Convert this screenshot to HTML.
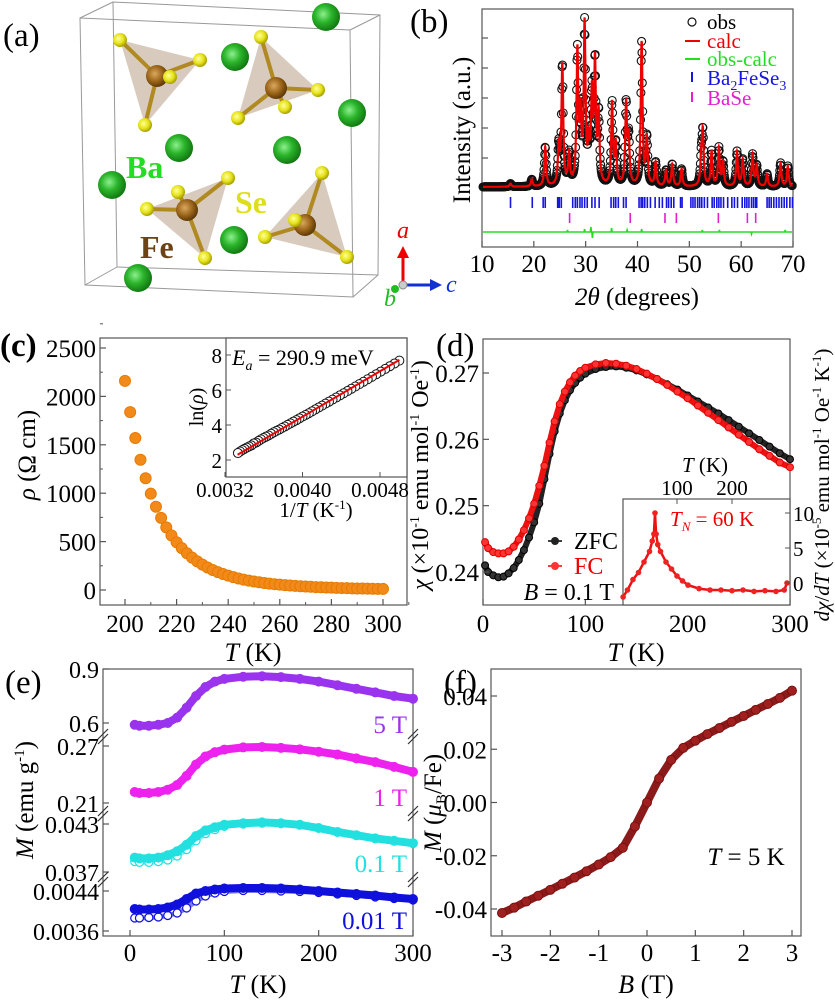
<!DOCTYPE html>
<html><head><meta charset="utf-8"><style>
html,body{margin:0;padding:0;background:#fff}
svg, svg text{font-family:"Liberation Serif","DejaVu Serif","Times New Roman",serif}
</style></head><body>
<svg id="fig" width="835" height="1000" viewBox="0 0 835 1000" xmlns="http://www.w3.org/2000/svg" font-family="Liberation Serif, DejaVu Serif, serif">
<rect x="0" y="0" width="835" height="1000" fill="#fff"/>
<g id="panelA">
 <text x="3" y="46" font-size="33">(a)</text>
 <g stroke="#999" stroke-width="1" fill="none">
  <polygon points="80,18 350,30 353,297 85,285"/>
  <polygon points="113,2 380,15 378,275 117,267"/>
  <line x1="80" y1="18" x2="113" y2="2"/><line x1="350" y1="30" x2="380" y2="15"/>
  <line x1="353" y1="297" x2="378" y2="275"/><line x1="85" y1="285" x2="117" y2="267"/>
 </g>
 <defs>
  <radialGradient id="gBa" cx="0.4" cy="0.4" r="0.6"><stop offset="0" stop-color="#8ef08e"/><stop offset="0.5" stop-color="#2bb52b"/><stop offset="1" stop-color="#137a13"/></radialGradient>
  <radialGradient id="gSe" cx="0.4" cy="0.4" r="0.6"><stop offset="0" stop-color="#ffff9a"/><stop offset="0.6" stop-color="#e6e21a"/><stop offset="1" stop-color="#a8a200"/></radialGradient>
  <radialGradient id="gFe" cx="0.4" cy="0.4" r="0.6"><stop offset="0" stop-color="#d9a860"/><stop offset="0.6" stop-color="#9a6418"/><stop offset="1" stop-color="#5e3a08"/></radialGradient>
 </defs>
 <g fill="#b8a088" fill-opacity="0.55">
  <polygon points="120,40 200,60 145,125"/>
  <polygon points="261,37 318,90 238,118"/>
  <polygon points="228,178 147,209 205,258"/>
  <polygon points="322,173 265,237 347,257"/>
 </g>
 <g stroke="#b08a20" stroke-width="4">
  <line x1="157" y1="76" x2="120" y2="40"/><line x1="157" y1="76" x2="200" y2="60"/><line x1="157" y1="76" x2="170" y2="77"/><line x1="157" y1="76" x2="145" y2="125"/>
  <line x1="276" y1="88" x2="261" y2="37"/><line x1="276" y1="88" x2="318" y2="90"/><line x1="276" y1="88" x2="238" y2="118"/><line x1="276" y1="88" x2="285" y2="107"/>
  <line x1="187" y1="210" x2="228" y2="178"/><line x1="187" y1="210" x2="147" y2="209"/><line x1="187" y1="210" x2="178" y2="192"/><line x1="187" y1="210" x2="205" y2="258"/>
  <line x1="305" y1="225" x2="322" y2="173"/><line x1="305" y1="225" x2="265" y2="237"/><line x1="305" y1="225" x2="295" y2="220"/><line x1="305" y1="225" x2="347" y2="257"/>
 </g>
 <g fill="url(#gBa)">
  <circle cx="326" cy="17" r="14"/><circle cx="235" cy="57" r="14"/><circle cx="352" cy="113" r="14"/><circle cx="179" cy="148" r="14"/><circle cx="287" cy="150" r="14"/><circle cx="112" cy="185" r="14"/><circle cx="234" cy="240" r="14"/><circle cx="138" cy="278" r="14"/>
 </g>
 <g fill="url(#gFe)">
  <circle cx="157" cy="76" r="11"/><circle cx="276" cy="88" r="11"/><circle cx="187" cy="210" r="11"/><circle cx="305" cy="225" r="11"/>
 </g>
 <g fill="url(#gSe)">
  <circle cx="120" cy="40" r="7"/><circle cx="200" cy="60" r="7"/><circle cx="170" cy="77" r="7"/><circle cx="145" cy="125" r="7"/>
  <circle cx="261" cy="37" r="7"/><circle cx="318" cy="90" r="7"/><circle cx="238" cy="118" r="7"/><circle cx="285" cy="107" r="7"/>
  <circle cx="228" cy="178" r="7"/><circle cx="147" cy="209" r="7"/><circle cx="178" cy="192" r="7"/><circle cx="205" cy="258" r="7"/>
  <circle cx="322" cy="173" r="7"/><circle cx="265" cy="237" r="7"/><circle cx="295" cy="220" r="7"/><circle cx="347" cy="257" r="7"/>
 </g>
 <text x="126" y="178" font-size="32" font-weight="bold" fill="#22dd22">Ba</text>
 <text x="235" y="213" font-size="32" font-weight="bold" fill="#dede20">Se</text>
 <text x="140" y="258" font-size="32" font-weight="bold" fill="#6b4316">Fe</text>
 <g>
  <line x1="403" y1="285" x2="403" y2="256" stroke="#e00" stroke-width="3"/><polygon points="397,258 409,258 403,246" fill="#e00"/>
  <line x1="403" y1="285" x2="432" y2="285" stroke="#1030d0" stroke-width="3"/><polygon points="430,279 430,291 442,285" fill="#1030d0"/>
  <circle cx="395" cy="289" r="4" fill="#22bb22"/><circle cx="403" cy="285" r="4" fill="#ccc" stroke="#888"/>
  <text x="397" y="238" font-size="24" font-style="italic" fill="#e00">a</text>
  <text x="446" y="292" font-size="24" font-style="italic" fill="#1030d0">c</text>
  <text x="384" y="306" font-size="24" font-style="italic" fill="#22bb22">b</text>
 </g>
</g>
<g id="panelB"></g>
<g id="panelC"></g>
<g id="panelD"></g>
<g id="panelE"></g>
<g id="panelF"></g>
</svg>
<script>
// ===== Panel (b) data =====
const xrdPeakPos = [15.5,19.6,22.2,24.8,25.5,26.8,28.4,29.0,29.8,30.6,31.2,31.8,32.5,35.1,35.8,37.8,38.3,40.8,41.8,43.5,45.5,46.7,48.5,52.3,52.6,54.3,55.7,56.5,59.2,60.3,62.2,63.0,65.0,67.6,69.0];
const xrdPeakHeight = [2,4.5,25,24,76,19,83,41,100,22,54,75,43,52,25,51,29,91,30,15,10,14,11,16,33,22,24,15,22,17,20,13,8,15,13];
const ba2fese3Ticks = [15.5,19.7,21.8,22.2,24.6,24.9,25.3,27.5,28,28.4,28.9,29.3,29.8,30.3,31.2,31.8,32.6,34.9,35.4,35.8,36.3,37.3,37.8,40.3,40.7,41,41.4,41.9,42.5,43.4,44.2,44.8,45.6,46,46.5,47,48.3,48.6,50.3,50.7,51.1,51.6,52,52.4,52.9,53.5,54.4,54.8,55.3,55.7,56.1,56.6,57.4,58.2,58.7,59.3,60.2,60.7,61.1,61.5,62,62.4,62.8,63,65,65.4,65.8,66.3,66.8,67.3,67.8,68.3,68.8,69.4,69.9];
const baseTicks = [26.9,38.6,45.3,47.5,55.6,61.2,62.8];
const diffSpikePos = [26.5,29.8,31.0,31.3,35.0,38.0,40.8,52.5,55.8,62.0,68.5];
const diffSpikeAmp = [2,3,5,-6,4,2,3,2,2,-2,2];
const xrdTicks = [10,20,30,40,50,60,70];
// ===== Panel (c) data =====
const rhoT = [200,202,204,206,208,210,212,214,216,218,220,222,224,226,228,230,232,234,236,238,240,242,244,246,248,250,252,254,256,258,260,262,264,266,268,270,272,274,276,278,280,282,284,286,288,290,292,294,296,298,300];
const rhoVal = [2160,1838,1570,1345,1155,995,860,745,647,564,493,432,380,335,296,262,233,207,185,165,148,133,119,107,97,88,80,72,66,60,55,50,46,42,39,36,33,30,28,26,24,22,20,19,17,16,15,14,13,12,11];
const rhoXTicks = [200,220,240,260,280,300];
const rhoYTicks = [0,500,1000,1500,2000,2500];
const fitInvT = [0.00333,0.00500];
const fitLnRho = [2.3,7.72];
const insetCXTicks = ["0.0032","0.0040","0.0048"];
const insetCYTicks = [2,4,6,8];
// ===== Panel (d) data =====
const chiT = [2,5,10,15,20,25,30,35,40,45,50,55,60,65,70,75,80,85,90,95,100,110,120,130,140,150,160,170,180,190,200,210,220,230,240,250,260,270,280,290,300];
const chiFC = [0.2445,0.2436,0.2430,0.2428,0.2428,0.2431,0.2438,0.2449,0.2463,0.2481,0.2503,0.2530,0.2560,0.2595,0.2627,0.2653,0.2672,0.2686,0.2696,0.2703,0.2708,0.2713,0.2715,0.2714,0.2711,0.2706,0.2699,0.2691,0.2682,0.2672,0.2662,0.2651,0.2640,0.2629,0.2618,0.2607,0.2596,0.2585,0.2575,0.2565,0.2558];
const chiZFC = [0.2410,0.2400,0.2395,0.2392,0.2393,0.2398,0.2406,0.2418,0.2433,0.2452,0.2475,0.2503,0.2540,0.2578,0.2612,0.2639,0.2659,0.2674,0.2685,0.2693,0.2699,0.2706,0.2709,0.2710,0.2708,0.2704,0.2698,0.2691,0.2683,0.2675,0.2666,0.2657,0.2648,0.2639,0.2629,0.2619,0.2609,0.2599,0.2589,0.2579,0.2570];
const chiYTicks = [0.24,0.25,0.26,0.27];
const chiXTicks = [0,100,200,300];
const dchiT = [2,10,20,30,40,50,55,58,60,62,65,70,80,90,100,110,120,140,160,180,200,220,240,260,280,295,300];
const dchiVal = [-2,-1,0.5,1.5,3,4.5,6,7,10,7,5.5,4.5,3,2,1,0.3,-0.3,-0.8,-1,-1,-1.1,-1,-1.2,-1.1,-1.2,-1.0,0];
// ===== Panel (e) data =====
const mT = [5,10,20,30,40,50,60,70,80,90,100,120,140,160,180,200,220,240,260,280,300];
const m5T = [0.59,0.585,0.585,0.59,0.60,0.63,0.685,0.75,0.80,0.83,0.845,0.857,0.86,0.855,0.845,0.83,0.81,0.79,0.77,0.75,0.735];
const m1T = [0.2216,0.2205,0.2205,0.2216,0.2240,0.2290,0.2385,0.2505,0.2590,0.2635,0.2662,0.2685,0.2690,0.2680,0.2665,0.2640,0.2610,0.2570,0.2530,0.2480,0.2427];
const m01T = [0.0388,0.0387,0.0387,0.0388,0.0391,0.0396,0.0404,0.0415,0.0422,0.0426,0.0429,0.0431,0.0432,0.0431,0.0429,0.0425,0.0420,0.0416,0.0412,0.0409,0.0406];
const m01TZFC = [0.0383,0.0382,0.0382,0.0383,0.0385,0.0390,0.0398,0.0409,0.0418,0.0423,0.0427,0.0430,0.0431,0.0431,0.0429,0.0425,0.0420,0.0416,0.0412,0.0409,0.0406];
const m001T = [0.00404,0.00403,0.00403,0.00404,0.00407,0.00413,0.00424,0.00435,0.00440,0.00443,0.00445,0.00446,0.00446,0.00445,0.00443,0.00440,0.00437,0.00434,0.00431,0.00427,0.00424];
const m001TZFC = [0.00386,0.00386,0.00387,0.00388,0.00391,0.00396,0.00406,0.00420,0.00430,0.00436,0.00439,0.00441,0.00441,0.00440,0.00439,0.00437,0.00434,0.00431,0.00428,0.00425,0.00422];
const mXTicks = [0,100,200,300];
// ===== Panel (f) data =====
const mhB = [-3,-2.75,-2.5,-2.25,-2,-1.75,-1.5,-1.25,-1,-0.75,-0.5,-0.25,0,0.25,0.5,0.75,1,1.25,1.5,1.75,2,2.25,2.5,2.75,3];
const mhM = [-0.0415,-0.0395,-0.0372,-0.035,-0.0328,-0.0305,-0.0282,-0.0258,-0.0233,-0.0205,-0.017,-0.009,0,0.009,0.016,0.0205,0.0232,0.0257,0.028,0.0303,0.0325,0.0348,0.037,0.0393,0.042];
const mhXTicks = [-3,-2,-1,0,1,2,3];
const mhYTicks = ["-0.04","-0.02","0.00","0.02","0.04"];

const NS = "http://www.w3.org/2000/svg";
function lin(d0,d1,r0,r1){return v=>r0+(v-d0)*(r1-r0)/(d1-d0);}
function mk(parent,tag,attrs,text){const e=document.createElementNS(NS,tag);for(const k in attrs)e.setAttribute(k,attrs[k]);if(text!==undefined)e.textContent=text;parent.appendChild(e);return e;}
function ptsStr(xs,ys,sx,sy){return xs.map((x,i)=>sx(x).toFixed(1)+","+sy(ys[i]).toFixed(1)).join(" ");}

// ---------- Panel B ----------
(function(){
 const g=document.getElementById('panelB');
 const sx=lin(10,70,482,793), sy=lin(0,100,185,28);
 let el;
 el=mk(g,'text',{x:410,y:32,'font-size':33},'(b)');
 
 
 el=mk(g,'rect',{x:482,y:9,width:311,height:238,fill:'none',stroke:'#555','stroke-width':1.2});
 
 
 function prof(x){let s=0;for(let i=0;i<xrdPeakPos.length;i++){const d=(x-xrdPeakPos[i])/0.2;s+=xrdPeakHeight[i]/(1+d*d);}return s;}
 const obs=mk(g,'g',{fill:'none',stroke:'#111','stroke-width':1.1});
 
 
 for(let x=10.2;x<=69.9;x+=0.07){const v=prof(x);
  const c=mk(obs,'circle',{cx:sx(x).toFixed(1),cy:(sy(v)+2).toFixed(1),r:4});
  
  }
 const cp=[];for(let x=10.2;x<=69.9;x+=0.02){cp.push(sx(x).toFixed(1)+','+(sy(prof(x))+2).toFixed(1));}
 el=mk(g,'polyline',{points:cp.join(' '),fill:'none',stroke:'#e00','stroke-width':2.2});
 
 
 const tb=mk(g,'g',{stroke:'#1515e0','stroke-width':1.6});
 
 
 ba2fese3Ticks.forEach(p=>{const l=mk(tb,'line',{x1:sx(p),x2:sx(p),y1:197,y2:208});
  
  });
 const tm=mk(g,'g',{stroke:'#e020d0','stroke-width':1.6});
 
 
 baseTicks.forEach(p=>{const l=mk(tm,'line',{x1:sx(p),x2:sx(p),y1:213,y2:223});
  
  });
 const dp=[];for(let x=10.2;x<=69.9;x+=0.1){let d=0;diffSpikePos.forEach((p,i)=>{if(Math.abs(x-p)<0.06)d=diffSpikeAmp[i];});dp.push(sx(x).toFixed(1)+','+(232-d).toFixed(1));}
 el=mk(g,'polyline',{points:dp.join(' '),fill:'none',stroke:'#22dd22','stroke-width':1.6});
 
 
 xrdTicks.forEach(t=>{
  const l=mk(g,'line',{x1:sx(t),x2:sx(t),y1:247,y2:241,stroke:'#555','stroke-width':1.2});
  
  
  const tx=mk(g,'text',{x:sx(t),y:272,'font-size':25,'text-anchor':'middle'},String(t));
  
  });
 [38,68,98,128,158].forEach(y=>{const l=mk(g,'line',{x1:482,x2:488,y1:y,y2:y,stroke:'#555','stroke-width':1.2});
  
  });
 el=mk(g,'text',{x:0,y:0,'font-size':25,'text-anchor':'middle',transform:'translate(470,130) rotate(-90)'},'Intensity (a.u.)');
 
 
 el=mk(g,'text',{x:637,y:305,'font-size':25,'text-anchor':'middle'});
 el.innerHTML='<tspan font-style="italic">2θ</tspan> (degrees)';
 
 
 const lg=mk(g,'g',{'font-size':21});
 
 
 el=mk(lg,'circle',{cx:692,cy:22,r:4,fill:'none',stroke:'#111','stroke-width':1.2});
 el=mk(lg,'text',{x:707,y:29},'obs');
 el=mk(lg,'line',{x1:685,x2:700,y1:41,y2:41,stroke:'#e00','stroke-width':2});
 el=mk(lg,'text',{x:707,y:48,fill:'#e00'},'calc');
 el=mk(lg,'line',{x1:685,x2:700,y1:59,y2:59,stroke:'#22dd22','stroke-width':2});
 el=mk(lg,'text',{x:707,y:66,fill:'#22dd22'},'obs-calc');
 el=mk(lg,'line',{x1:692,x2:692,y1:72,y2:82,stroke:'#1515e0','stroke-width':2});
 el=mk(lg,'text',{x:707,y:85,fill:'#1515e0'});el.innerHTML='Ba<tspan font-size="14" dy="5">2</tspan><tspan dy="-5">FeSe</tspan><tspan font-size="14" dy="5">3</tspan>';
 el=mk(lg,'line',{x1:692,x2:692,y1:92,y2:102,stroke:'#e020d0','stroke-width':2});
 el=mk(lg,'text',{x:707,y:105,fill:'#e020d0'},'BaSe');
})();

// ---------- Panel C ----------
(function(){
 const g=document.getElementById('panelC');
 const sx=lin(200,300,125,383), sy=lin(0,2500,590,348);
 let el;
 el=mk(g,'text',{x:0,y:356,'font-size':33,'font-weight':'bold'},'(c)');
 el=mk(g,'rect',{x:100,y:338,width:307,height:267,fill:'none',stroke:'#555','stroke-width':1.2});
 const pts=mk(g,'g',{fill:'#f28a1a',stroke:'#e87a00','stroke-width':1});
 
 
 rhoT.forEach((t,i)=>{const c=mk(pts,'circle',{cx:sx(t),cy:sy(rhoVal[i]),r:5.5});
  
  });
 rhoXTicks.forEach(t=>{
  el=mk(g,'line',{x1:sx(t),x2:sx(t),y1:605,y2:599,stroke:'#555','stroke-width':1.2});
  el=mk(g,'text',{x:sx(t),y:632,'font-size':25,'text-anchor':'middle'},String(t));
  el=mk(g,'line',{x1:sx(t+10),x2:sx(t+10),y1:605,y2:602,stroke:'#555'});});
 rhoYTicks.forEach(t=>{
  el=mk(g,'line',{x1:100,x2:106,y1:sy(t),y2:sy(t),stroke:'#555','stroke-width':1.2});
  el=mk(g,'text',{x:96,y:sy(t)+9,'font-size':25,'text-anchor':'end'},String(t));
  el=mk(g,'line',{x1:100,x2:103,y1:sy(t+250),y2:sy(t+250),stroke:'#555'});});
 el=mk(g,'text',{x:0,y:0,'font-size':25,'text-anchor':'middle',transform:'translate(35,455) rotate(-90)'});el.innerHTML='<tspan font-style="italic">ρ</tspan> (Ω cm)';
 el=mk(g,'text',{x:253,y:661,'font-size':26,'text-anchor':'middle'});el.innerHTML='<tspan font-style="italic">T</tspan> (K)';
 const ix=lin(0.0032,0.0048,225,380), iy=lin(2,8,460,355);
 el=mk(g,'rect',{x:226,y:338,width:181,height:139,fill:'#fff',stroke:'#555','stroke-width':1.2});
 const ip=mk(g,'g',{fill:'#fff',stroke:'#111','stroke-width':1});
 
 
 rhoT.forEach((t,i)=>{const c=mk(ip,'circle',{cx:ix(1/t),cy:iy(Math.log(rhoVal[i])),r:4.5});
  
  });
 el=mk(g,'line',{x1:ix(fitInvT[0]),y1:iy(fitLnRho[0]),x2:ix(fitInvT[1]),y2:iy(fitLnRho[1]),stroke:'#e00','stroke-width':2});
 insetCXTicks.forEach(t=>{const v=parseFloat(t);
  el=mk(g,'line',{x1:ix(v),x2:ix(v),y1:477,y2:472,stroke:'#555'});
  el=mk(g,'text',{x:ix(v),y:497,'font-size':21,'text-anchor':'middle'},t);});
 insetCYTicks.forEach(t=>{
  el=mk(g,'line',{x1:226,x2:231,y1:iy(t),y2:iy(t),stroke:'#555'});
  el=mk(g,'text',{x:222,y:iy(t)+8,'font-size':21,'text-anchor':'end'},String(t));});
 el=mk(g,'text',{x:0,y:0,'font-size':20,'text-anchor':'middle',transform:'translate(203,407) rotate(-90)'});el.innerHTML='ln(<tspan font-style="italic">ρ</tspan>)';
 el=mk(g,'text',{x:316,y:517,'font-size':21,'text-anchor':'middle'});el.innerHTML='1/<tspan font-style="italic">T</tspan> (K<tspan font-size="13" dy="-8">-1</tspan><tspan dy="8">)</tspan>';
 el=mk(g,'text',{x:232,y:365,'font-size':22});el.innerHTML='<tspan font-style="italic">E</tspan><tspan font-style="italic" font-size="14" dy="5">a</tspan><tspan dy="-5"> = 290.9 meV</tspan>';
})();

// ---------- Panel D ----------
(function(){
 const g=document.getElementById('panelD');
 const sx=lin(0,300,483,790), sy=lin(0.24,0.27,572,373);
 let el;
 el=mk(g,'text',{x:436,y:356,'font-size':33},'(d)');
 el=mk(g,'rect',{x:483,y:339,width:307,height:266,fill:'none',stroke:'#555','stroke-width':1.2});
 el=mk(g,'polyline',{points:ptsStr(chiT,chiZFC,sx,sy),fill:'none',stroke:'#222','stroke-width':6});
 const zg=mk(g,'g',{fill:'#333',stroke:'#000','stroke-width':1});
 chiT.forEach((t,i)=>{const c=mk(zg,'circle',{cx:sx(t),cy:sy(chiZFC[i]),r:3.5});});
 el=mk(g,'polyline',{points:ptsStr(chiT,chiFC,sx,sy),fill:'none',stroke:'#ee1111','stroke-width':6});
 const fg=mk(g,'g',{fill:'#ff3333',stroke:'#dd0000','stroke-width':1});
 chiT.forEach((t,i)=>{const c=mk(fg,'circle',{cx:sx(t),cy:sy(chiFC[i]),r:3.5});});
 chiXTicks.forEach(t=>{
  el=mk(g,'line',{x1:sx(t),x2:sx(t),y1:605,y2:599,stroke:'#555','stroke-width':1.2});
  el=mk(g,'text',{x:sx(t),y:632,'font-size':25,'text-anchor':'middle'},String(t));});
 chiYTicks.forEach(t=>{
  el=mk(g,'line',{x1:483,x2:489,y1:sy(t),y2:sy(t),stroke:'#555','stroke-width':1.2});
  el=mk(g,'text',{x:479,y:sy(t)+9,'font-size':25,'text-anchor':'end'},t.toFixed(2));});
 el=mk(g,'text',{x:0,y:0,'font-size':24,'text-anchor':'middle',transform:'translate(428,475) rotate(-90)'});el.innerHTML='<tspan font-style="italic">χ</tspan> (×10<tspan font-size="14" dy="-9">-1</tspan><tspan dy="9"> emu mol</tspan><tspan font-size="14" dy="-9">-1</tspan><tspan dy="9"> Oe</tspan><tspan font-size="14" dy="-9">-1</tspan><tspan dy="9">)</tspan>';
 el=mk(g,'text',{x:636,y:661,'font-size':26,'text-anchor':'middle'});el.innerHTML='<tspan font-style="italic">T</tspan> (K)';
 el=mk(g,'line',{x1:548,x2:562,y1:541,y2:541,stroke:'#000','stroke-width':1.5});
 el=mk(g,'circle',{cx:555,cy:541,r:4,fill:'#222'});
 el=mk(g,'text',{x:574,y:549,'font-size':24},'ZFC');
 el=mk(g,'line',{x1:548,x2:562,y1:566,y2:566,stroke:'#e00','stroke-width':1.5});
 el=mk(g,'circle',{cx:555,cy:566,r:4,fill:'#f33'});
 el=mk(g,'text',{x:574,y:574,'font-size':24,fill:'#e00'},'FC');
 el=mk(g,'text',{x:614,y:600,'font-size':24,'text-anchor':'end'});el.innerHTML='<tspan font-style="italic">B</tspan> = 0.1 T';
 const ix=lin(100,200,677,732), iy=lin(0,10,583,513);
 el=mk(g,'rect',{x:623,y:499,width:167,height:106,fill:'#fff',stroke:'#555','stroke-width':1.2});
 el=mk(g,'polyline',{points:ptsStr(dchiT,dchiVal,ix,iy),fill:'none',stroke:'#ee1111','stroke-width':2.5});
 const dg=mk(g,'g',{fill:'#ee2222'});
 dchiT.forEach((t,i)=>{const c=mk(dg,'circle',{cx:ix(t),cy:iy(dchiVal[i]),r:2.8});});
 [100,200].forEach(t=>{
  el=mk(g,'line',{x1:ix(t),x2:ix(t),y1:499,y2:504,stroke:'#555'});
  el=mk(g,'text',{x:ix(t),y:495,'font-size':21,'text-anchor':'middle'},String(t));});
 [0,5,10].forEach(t=>{
  el=mk(g,'line',{x1:785,x2:790,y1:iy(t),y2:iy(t),stroke:'#555'});
  el=mk(g,'text',{x:793,y:iy(t)+8,'font-size':21},String(t));});
 el=mk(g,'text',{x:705,y:472,'font-size':21,'text-anchor':'middle'});el.innerHTML='<tspan font-style="italic">T</tspan> (K)';
 el=mk(g,'text',{x:670,y:526,'font-size':21,fill:'#e00'});el.innerHTML='<tspan font-style="italic">T</tspan><tspan font-style="italic" font-size="13" dy="5">N</tspan><tspan dy="-5"> = 60 K</tspan>';
 el=mk(g,'text',{x:0,y:0,'font-size':21,'text-anchor':'middle',transform:'translate(829,485) rotate(-90)'});el.innerHTML='<tspan font-style="italic">dχ</tspan>/<tspan font-style="italic">dT</tspan> (×10<tspan font-size="13" dy="-8">-5</tspan><tspan dy="8"> emu mol</tspan><tspan font-size="13" dy="-8">-1</tspan><tspan dy="8"> Oe</tspan><tspan font-size="13" dy="-8">-1</tspan><tspan dy="8"> K</tspan><tspan font-size="13" dy="-8">-1</tspan><tspan dy="8">)</tspan>';
})();

// ---------- Panel E ----------
(function(){
 const g=document.getElementById('panelE');
 const sx=lin(0,300,130,413);
 let el;
 el=mk(g,'text',{x:5,y:693,'font-size':33},'(e)');
 el=mk(g,'rect',{x:103,y:669,width:310,height:267,fill:'none',stroke:'#555','stroke-width':1.2});
 const segs=[
  {name:'5t',lo:0.6,hi:0.9,ylo:723,yhi:669,data:m5T,zfc:null,col:'#9a33ee',lab:'5 T',ly:733,los:'0.6',his:'0.9'},
  {name:'1t',lo:0.21,hi:0.27,ylo:803,yhi:746,data:m1T,zfc:null,col:'#ee22ee',lab:'1 T',ly:806,los:'0.21',his:'0.27'},
  {name:'0p1t',lo:0.037,hi:0.043,ylo:872,yhi:824,data:m01T,zfc:m01TZFC,col:'#22e0e0',lab:'0.1 T',ly:872,los:'0.037',his:'0.043'},
  {name:'0p01t',lo:0.0036,hi:0.0044,ylo:931,yhi:891,data:m001T,zfc:m001TZFC,col:'#1010dd',lab:'0.01 T',ly:929,los:'0.0036',his:'0.0044'}];
 segs.forEach(s=>{
  const sy=lin(s.lo,s.hi,s.ylo,s.yhi);
  if(s.zfc){
   el=mk(g,'polyline',{points:ptsStr(mT,s.zfc,sx,sy),fill:'none',stroke:s.col,'stroke-width':5,'stroke-opacity':0.55});
   const zg=mk(g,'g',{fill:'#fff',stroke:s.col,'stroke-width':1.2});
   mT.forEach((t,i)=>{const c=mk(zg,'circle',{cx:sx(t),cy:sy(s.zfc[i]),r:4});});
  }
  el=mk(g,'polyline',{points:ptsStr(mT,s.data,sx,sy),fill:'none',stroke:s.col,'stroke-width':8});
  const fg=mk(g,'g',{fill:s.col,stroke:s.col});
  mT.forEach((t,i)=>{const c=mk(fg,'circle',{cx:sx(t),cy:sy(s.data[i]),r:4.5});});
  el=mk(g,'text',{x:407,y:s.ly,'font-size':25,'text-anchor':'end',fill:s.col},s.lab);
  [[s.lo,s.los],[s.hi,s.his]].forEach(p=>{
   el=mk(g,'line',{x1:103,x2:109,y1:sy(p[0]),y2:sy(p[0]),stroke:'#555','stroke-width':1.2});
   el=mk(g,'text',{x:99,y:sy(p[0])+9,'font-size':24,'text-anchor':'end'},p[1]);});
 });
 [735,812,878].forEach(y=>{[103,413].forEach(x=>{
  el=mk(g,'path',{d:`M${x-5},${y+4} L${x+5},${y-6} M${x-5},${y+9} L${x+5},${y-1}`,stroke:'#333','stroke-width':1.2,fill:'none'});});});
 mXTicks.forEach(t=>{
  el=mk(g,'line',{x1:sx(t),x2:sx(t),y1:936,y2:930,stroke:'#555','stroke-width':1.2});
  el=mk(g,'text',{x:sx(t),y:961,'font-size':25,'text-anchor':'middle'},String(t));});
 el=mk(g,'text',{x:0,y:0,'font-size':25,'text-anchor':'middle',transform:'translate(33,800) rotate(-90)'});el.innerHTML='<tspan font-style="italic">M</tspan> (emu g<tspan font-size="15" dy="-9">-1</tspan><tspan dy="9">)</tspan>';
 el=mk(g,'text',{x:258,y:993,'font-size':26,'text-anchor':'middle'});el.innerHTML='<tspan font-style="italic">T</tspan> (K)';
})();

// ---------- Panel F ----------
(function(){
 const g=document.getElementById('panelF');
 const sx=lin(-3,3,502,792), sy=lin(-0.04,0.04,909,696);
 let el;
 el=mk(g,'text',{x:444,y:693,'font-size':33},'(f)');
 el=mk(g,'rect',{x:491,y:669,width:310,height:267,fill:'none',stroke:'#555','stroke-width':1.2});
 el=mk(g,'polyline',{points:ptsStr(mhB,mhM,sx,sy),fill:'none',stroke:'#8b1a1a','stroke-width':8});
 const pg=mk(g,'g',{fill:'#a02020',stroke:'#7a1010'});
 mhB.forEach((b,i)=>{const c=mk(pg,'circle',{cx:sx(b),cy:sy(mhM[i]),r:4.5});});
 mhXTicks.forEach(t=>{
  el=mk(g,'line',{x1:sx(t),x2:sx(t),y1:936,y2:930,stroke:'#555','stroke-width':1.2});
  el=mk(g,'text',{x:sx(t),y:961,'font-size':25,'text-anchor':'middle'},String(t));});
 mhYTicks.forEach(t=>{const v=parseFloat(t);
  el=mk(g,'line',{x1:491,x2:497,y1:sy(v),y2:sy(v),stroke:'#555','stroke-width':1.2});
  el=mk(g,'text',{x:487,y:sy(v)+9,'font-size':25,'text-anchor':'end'},t);});
 el=mk(g,'text',{x:0,y:0,'font-size':25,'text-anchor':'middle',transform:'translate(441,803) rotate(-90)'});el.innerHTML='<tspan font-style="italic">M</tspan> (<tspan font-style="italic">μ</tspan><tspan font-size="15" dy="5">B</tspan><tspan dy="-5">/Fe)</tspan>';
 el=mk(g,'text',{x:646,y:993,'font-size':26,'text-anchor':'middle'});el.innerHTML='<tspan font-style="italic">B</tspan> (T)';
 el=mk(g,'text',{x:746,y:865,'font-size':25,'text-anchor':'middle'});el.innerHTML='<tspan font-style="italic">T</tspan> = 5 K';
})();
</script>
</body></html>
